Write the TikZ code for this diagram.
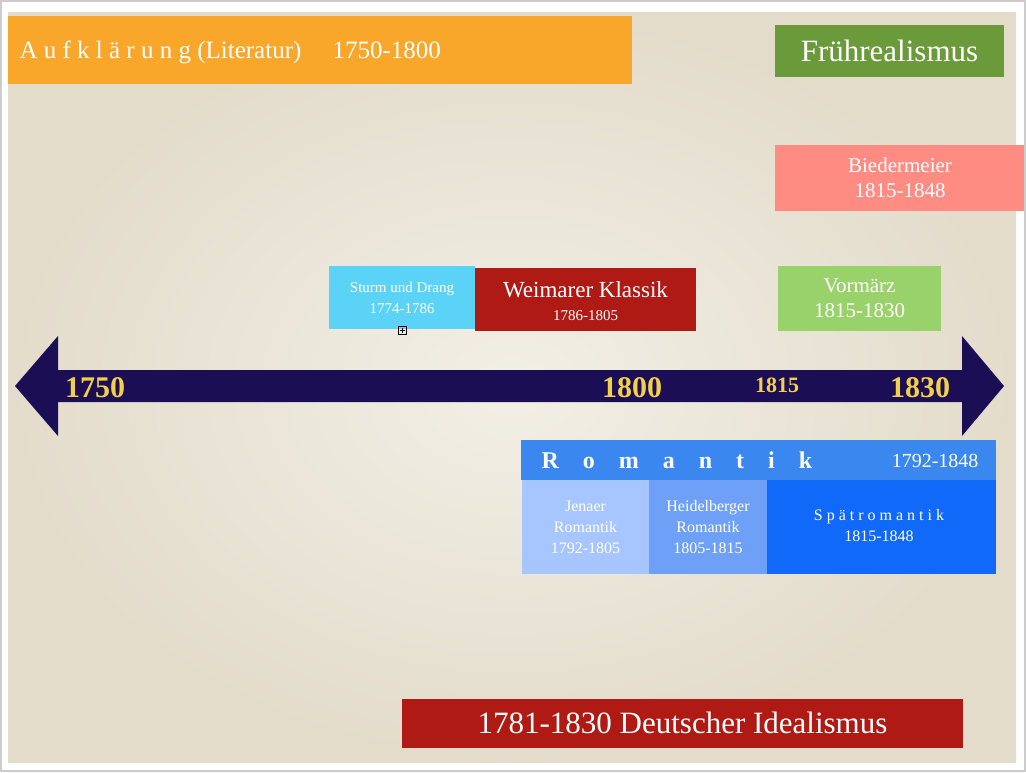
\documentclass[tikz,border=0pt]{standalone}
\usepackage{fontspec}
\setmainfont{Liberation Serif}
\begin{document}
\begin{tikzpicture}[x=1pt,y=-1pt,
  box/.style={draw=none,inner sep=0pt},
  wt/.style={text=white,align=center},
  yr/.style={text=yrc,font=\bfseries\fontsize{30}{30}\selectfont}]
\definecolor{orangeb}{HTML}{F9A72B}
\definecolor{greenb}{HTML}{6A9A3A}
\definecolor{pinkb}{HTML}{FF8C82}
\definecolor{lgreenb}{HTML}{99D26A}
\definecolor{cyanb}{HTML}{5BD3F7}
\definecolor{redb}{HTML}{B01A14}
\definecolor{navyb}{HTML}{1C0E55}
\definecolor{yrc}{HTML}{F2D04A}
\definecolor{romh}{HTML}{3A87F0}
\definecolor{rom1}{HTML}{A7C6FF}
\definecolor{rom2}{HTML}{6FA0F7}
\definecolor{rom3}{HTML}{1169FA}
\definecolor{paper}{HTML}{E3DCCB}
\definecolor{paperc}{HTML}{F2EFE6}
\useasboundingbox (0,0) rectangle (1026,772);
\fill[gray!40] (0,0) rectangle (1026,772);
\fill[white] (2,2) rectangle (1024,770);
\shade[inner color=paperc,outer color=paper] (8,12) rectangle (1016,762);
% top
\fill[orangeb] (8,16) rectangle (632,84);
\node[wt,anchor=west,font=\fontsize{25}{25}\selectfont] (auf) at (16,52) {A u f k l ä r u n g (Literatur)\quad\ 1750-1800};
\fill[greenb] (775,25) rectangle (1004,77);
\node[wt,font=\fontsize{31}{31}\selectfont] (fr) at (889.5,51) {Frührealismus};
\fill[pinkb] (775,145) rectangle (1024,211);
\node[wt,font=\fontsize{21}{25}\selectfont] (bm) at (900,178) {Biedermeier\\1815-1848};
\fill[lgreenb] (778,266) rectangle (941,331);
\node[wt,font=\fontsize{21}{25}\selectfont] (vm) at (859.5,298) {Vormärz\\1815-1830};
\fill[cyanb] (329,266) rectangle (475,329);
\node[wt,font=\fontsize{15}{21}\selectfont] (sd) at (402,298) {Sturm und Drang\\1774-1786};
\fill[redb] (475,268) rectangle (696,331);
\node[wt,font=\fontsize{23}{23}\selectfont] (wk) at (585.5,290) {Weimarer Klassik};
\node[wt,font=\fontsize{15}{15}\selectfont] (wky) at (585.5,316) {1786-1805};
\draw[black,line width=0.6] (398,326) rectangle (406,334) (399.5,330)--(404.5,330) (402,327.5)--(402,332.5);
% arrow
\fill[navyb] (15,386) -- (58,336) -- (58,370) -- (962,370) -- (962,336) -- (1004,386) -- (962,436) -- (962,402) -- (58,402) -- (58,436) -- cycle;
\node[yr] (y1750) at (95,388) {1750};
\node[yr] (y1800) at (632,388) {1800};
\node[yr,font=\bfseries\fontsize{22}{22}\selectfont] (y1815) at (777,385) {1815};
\node[yr] (y1830) at (920,388) {1830};
% Romantik
\fill[romh] (521,440) rectangle (996,480);
\node[wt,anchor=west,font=\bfseries\fontsize{24}{24}\selectfont] (rom) at (538,460) {R\quad o\quad m\quad a\quad n\quad t\quad i\quad k};
\node[wt,anchor=east,font=\fontsize{20}{20}\selectfont] (romy) at (982,461) {1792-1848};
\fill[rom1] (522,480) rectangle (649,574);
\node[wt,font=\fontsize{16}{21}\selectfont] (jr) at (585.5,527) {Jenaer\\Romantik\\1792-1805};
\fill[rom2] (649,480) rectangle (767,574);
\node[wt,font=\fontsize{16}{21}\selectfont] (hr) at (708,527) {Heidelberger\\Romantik\\1805-1815};
\fill[rom3] (767,480) rectangle (996,574);
\node[wt,font=\fontsize{16}{21}\selectfont] (sr) at (879,526) {S p ä t r o m a n t i k\\1815-1848};
% bottom
\fill[redb] (402,699) rectangle (963,748);
\node[wt,font=\fontsize{31}{31}\selectfont] (di) at (682.5,723) {1781-1830 Deutscher Idealismus};
\end{tikzpicture}
\end{document}
